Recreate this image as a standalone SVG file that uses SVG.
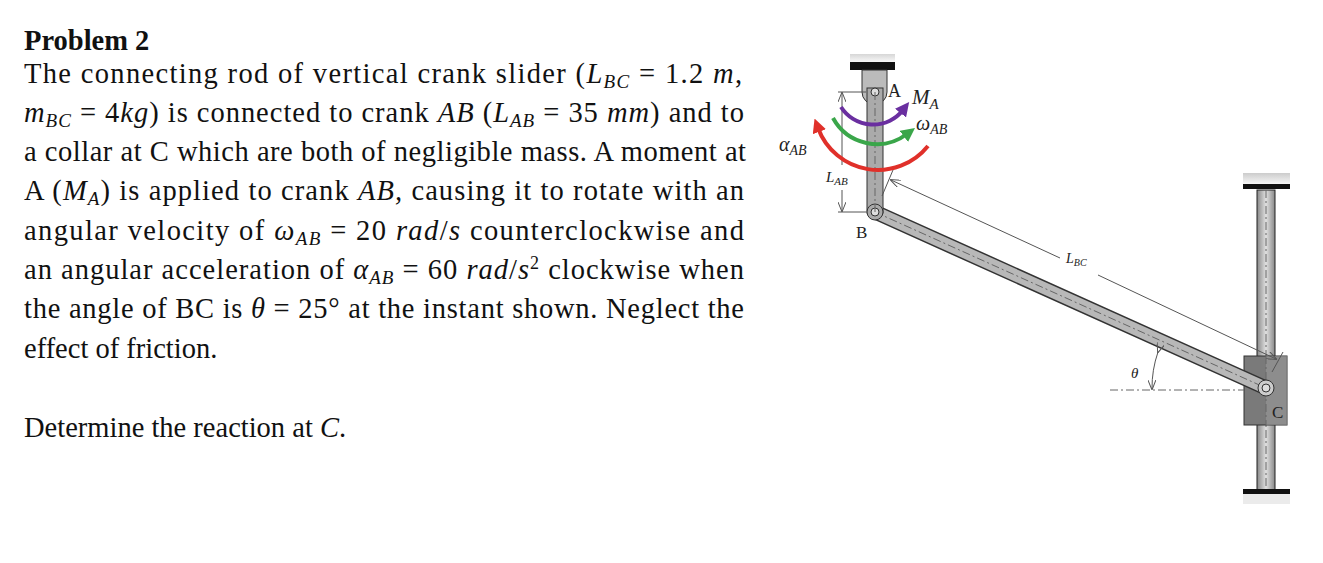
<svg xmlns="http://www.w3.org/2000/svg" width="1323" height="563" viewBox="0 0 1323 563">
<style>
.t{font-family:"Liberation Serif",serif;font-size:28.5px;fill:#111}
.i{font-style:italic}
.s{font-size:19px;font-style:italic}
.l{font-family:"Liberation Serif",serif;fill:#222}
.dim{stroke:#555;stroke-width:1;fill:none}
.cl{stroke:#666;stroke-width:1;stroke-dasharray:8 3 2 3;fill:none}
</style>
<defs>
<marker id="ah" markerWidth="10" markerHeight="8" refX="9" refY="4" orient="auto" markerUnits="userSpaceOnUse"><path d="M0,0 L10,4 L0,8" fill="none" stroke="#555"/></marker>
<marker id="cp" markerWidth="14" markerHeight="14" refX="4" refY="7" orient="auto" markerUnits="userSpaceOnUse"><path d="M0,0 L14,7 L0,14 Z" fill="#6a2fa0"/></marker>
<marker id="cg" markerWidth="14" markerHeight="14" refX="4" refY="7" orient="auto" markerUnits="userSpaceOnUse"><path d="M0,0 L14,7 L0,14 Z" fill="#3aa64a"/></marker>
<marker id="cr" markerWidth="14" markerHeight="14" refX="4" refY="7" orient="auto" markerUnits="userSpaceOnUse"><path d="M0,0 L14,7 L0,14 Z" fill="#e0302a"/></marker>
<linearGradient id="rod" x1="0" y1="0" x2="1" y2="0"><stop offset="0" stop-color="#888"/><stop offset="0.5" stop-color="#e0e0e0"/><stop offset="1" stop-color="#888"/></linearGradient>
<linearGradient id="bar" x1="0" y1="0" x2="0" y2="1"><stop offset="0" stop-color="#999"/><stop offset="1" stop-color="#eee"/></linearGradient>
</defs>

<g id="text">
<text class="t" x="24" y="50" font-weight="bold" font-size="27">Problem 2</text>
<text class="t" x="24" y="83" textLength="718" lengthAdjust="spacing">The connecting rod of vertical crank slider (<tspan class="i">L</tspan><tspan class="s" dy="5">BC</tspan><tspan dy="-5"> = 1.2 </tspan><tspan class="i">m</tspan>,</text>
<text class="t" x="24" y="122" textLength="720" lengthAdjust="spacing"><tspan class="i">m</tspan><tspan class="s" dy="5">BC</tspan><tspan dy="-5"> = 4</tspan><tspan class="i">kg</tspan>) is connected to crank <tspan class="i">AB</tspan> (<tspan class="i">L</tspan><tspan class="s" dy="5">AB</tspan><tspan dy="-5"> = 35 </tspan><tspan class="i">mm</tspan>) and to</text>
<text class="t" x="24" y="161" textLength="722" lengthAdjust="spacing">a collar at C which are both of negligible mass.  A moment at</text>
<text class="t" x="24" y="200" textLength="720" lengthAdjust="spacing">A (<tspan class="i">M</tspan><tspan class="s" dy="5">A</tspan><tspan dy="-5">) is applied to crank </tspan><tspan class="i">AB,</tspan> causing it to rotate with an</text>
<text class="t" x="24" y="240" textLength="720" lengthAdjust="spacing">angular velocity of <tspan class="i">ω</tspan><tspan class="s" dy="5">AB</tspan><tspan dy="-5"> = 20 </tspan><tspan class="i">rad</tspan>/<tspan class="i">s</tspan> counterclockwise and</text>
<text class="t" x="24" y="279" textLength="720" lengthAdjust="spacing">an angular acceleration of <tspan class="i">α</tspan><tspan class="s" dy="5">AB</tspan><tspan dy="-5"> = 60 </tspan><tspan class="i">rad</tspan>/<tspan class="i">s</tspan><tspan font-size="18" dy="-10">2</tspan><tspan dy="10"> clockwise when</tspan></text>
<text class="t" x="24" y="318" textLength="720" lengthAdjust="spacing">the angle of BC is <tspan class="i">θ</tspan> = 25° at the instant shown.  Neglect the</text>
<text class="t" x="24" y="358">effect of friction.</text>
<text class="t" x="24" y="437">Determine the reaction at <tspan class="i">C</tspan>.</text>
</g>

<g id="rail">
<rect x="1257" y="190" width="18" height="300" fill="url(#rod)" stroke="#222"/>
<line x1="1266" y1="190" x2="1266" y2="490" class="cl"/>
<rect x="1243" y="184" width="47" height="5" fill="#111"/>
<rect x="1243" y="173" width="47" height="11" fill="url(#bar)" opacity="0.5"/>
<rect x="1243" y="489" width="47" height="5" fill="#111"/>
<rect x="1243" y="494" width="47" height="10" fill="#ddd" opacity="0.6"/>
</g>

<g id="collar">
<rect x="1244" y="356" width="43" height="69" fill="#7a7a7a" stroke="#333"/>
<rect x="1266" y="356" width="21" height="69" fill="#9a9a9a" opacity="0.6"/>
<line x1="1266" y1="356" x2="1266" y2="425" class="cl"/>
<text class="l" x="1272" y="418" font-size="17">C</text>
</g>

<g id="mount">
<rect x="850" y="62" width="45" height="8" fill="#111"/>
<rect x="850" y="54" width="45" height="8" fill="url(#bar)" opacity="0.4"/>
<path d="M862,70 H887 V92 A12.5,12.5 0 0 1 862,92 Z" fill="#bbb" stroke="#333"/>
</g>

<g id="rodBC">
<line x1="875" y1="212" x2="1266" y2="388" stroke="#333" stroke-width="15" stroke-linecap="round"/>
<line x1="875" y1="212" x2="1266" y2="388" stroke="#b8b8b8" stroke-width="12" stroke-linecap="round"/>
<line x1="875" y1="212" x2="1266" y2="388" class="cl"/>
<circle cx="1266" cy="388" r="8" fill="#ccc" stroke="#333"/>
<circle cx="1266" cy="388" r="4" fill="#ddd" stroke="#333"/>
</g>

<g id="rodAB">
<rect x="867" y="88" width="16" height="125" fill="#aaa" stroke="#333"/>
<circle cx="875" cy="212" r="8" fill="#aaa" stroke="#333"/>
<circle cx="875" cy="212" r="4" fill="#ddd" stroke="#333"/>
<circle cx="875" cy="92" r="4" fill="#ddd" stroke="#333"/>
<line x1="875" y1="92" x2="875" y2="212" class="cl"/>
<text class="l" x="888" y="97" font-size="18">A</text>
<text class="l" x="856" y="238" font-size="17">B</text>
</g>

<g id="connectors">
<line x1="838" y1="92" x2="866" y2="92" class="dim"/>
<line x1="838" y1="212" x2="866" y2="212" class="dim"/>
<line x1="842" y1="165" x2="842" y2="93" class="dim" marker-end="url(#ah)"/>
<line x1="842" y1="190" x2="842" y2="211" class="dim" marker-end="url(#ah)"/>
<line x1="882" y1="196" x2="893" y2="170" class="dim"/>
<line x1="1272" y1="372" x2="1283" y2="352" class="dim"/>
<line x1="1060" y1="258" x2="891" y2="180" class="dim" marker-end="url(#ah)"/>
<line x1="1098" y1="275" x2="1276" y2="359" class="dim" marker-end="url(#ah)"/>
<line x1="1110" y1="390" x2="1244" y2="390" class="cl"/>
<path d="M1158,352 A110,110 0 0 0 1152,389" class="dim" marker-end="url(#ah)" marker-start="url(#ah)"/>
<path d="M841,107 A38,38 0 0 0 903,110" fill="none" stroke="#6a2fa0" stroke-width="4" marker-end="url(#cp)"/>
<path d="M833,118 A50,50 0 0 0 907,134" fill="none" stroke="#3aa64a" stroke-width="4" marker-end="url(#cg)"/>
<path d="M928,146 A64,64 0 0 1 818,128" fill="none" stroke="#e0302a" stroke-width="4" marker-end="url(#cr)"/>
</g>

<g id="labels">
<text class="l" x="912" y="104" font-size="21" font-style="italic">M<tspan font-size="15" dy="5">A</tspan></text>
<text class="l" x="916" y="130" font-size="20" font-style="italic">ω<tspan font-size="14" dy="4">AB</tspan></text>
<text class="l" x="779" y="151" font-size="20" font-style="italic">α<tspan font-size="14" dy="4">AB</tspan></text>
<text class="l" x="826" y="182" font-size="15" font-style="italic">L<tspan font-size="11" dy="3">AB</tspan></text>
<text class="l" x="1066" y="263" font-size="14" font-style="italic">L<tspan font-size="10" dy="3">BC</tspan></text>
<text class="l" x="1131" y="378" font-size="15" font-style="italic">θ</text>
</g>
</svg>
